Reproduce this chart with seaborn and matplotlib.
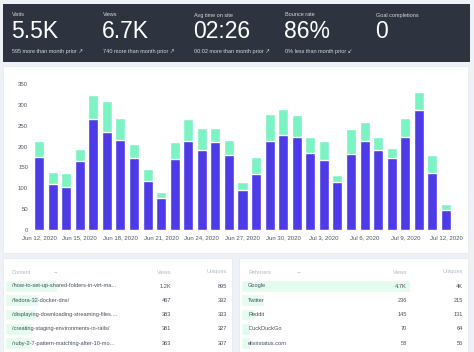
import matplotlib.pyplot as plt
import matplotlib.patches as mpatches
import pandas as pd
import seaborn as sb

# figure size in pixels
W, H = 474, 352

sb.set_theme(style="white")
plt.rcParams['font.family'] = ['Liberation Sans', 'DejaVu Sans']

# colours
bgcolor = "#eef1f5"
darkpanel = "#2d3440"
purple = "#4c3be6"
mint = "#7cf3c3"
rowbar = "#e4fbef"
headgray = "#b4bac3"
rowtext = "#464e5c"

# stats strip
stat_labels = ["Visits", "Views", "Avg time on site", "Bounce rate", "Goal completions"]
stat_values = ["5.5K", "6.7K", "02:26", "86%", "0"]
stat_changes = ["595 more than month prior \u2197", "740 more than month prior \u2197",
                "00:02 more than month prior \u2197", "0% less than month prior \u2199", ""]

# daily chart
days = pd.date_range("2020-06-12", "2020-07-12", freq="D")
day_labels = ["{:%b} {}, {}".format(d, d.day, d.year) for d in days]
visitors = [176, 110, 102, 165, 266, 236, 216, 172, 117, 77, 171, 213, 191, 211, 179, 95,
            135, 214, 228, 224, 184, 169, 114, 181, 214, 191, 172, 223, 288, 136, 48]
pageviews = [214, 139, 136, 193, 323, 309, 268, 206, 146, 92, 210, 266, 244, 245, 216, 116,
             176, 277, 291, 276, 223, 213, 132, 241, 260, 224, 197, 269, 331, 179, 62]

# tables
pages = ["/how-to-set-up-shared-folders-in-virt-ma...", "/fedora-32-docker-dns/",
         "/displaying-downloading-streaming-files....", "/creating-staging-environments-in-rails/",
         "/ruby-2-7-pattern-matching-after-10-mo..."]
page_views = ["1.2K", "467", "383", "381", "363"]
page_uniques = ["895", "392", "333", "327", "307"]
page_share = [23, 15, 14, 12, 12]

referrers = ["Google", "Twitter", "Reddit", "DuckDuckGo", "elixirstatus.com"]
ref_views = ["4.7K", "236", "145", "70", "58"]
ref_uniques = ["4K", "215", "131", "64", "56"]
ref_share = [75, 10, 6, 4, 4]


def fx(x):
    return x / W


def fy(y):
    return 1 - y / H


def panel(x0, y0, x1, y1, color, edge="none"):
    fig.patches.append(mpatches.Rectangle((fx(x0), fy(y1)), fx(x1 - x0), (y1 - y0) / H,
                                          transform=fig.transFigure, facecolor=color,
                                          edgecolor=edge, linewidth=0.5, zorder=-5))


fig = plt.figure(figsize=(W / 100, H / 100), dpi=100)
fig.patch.set_facecolor(bgcolor)

panel(3, 4, 470, 62, darkpanel)
panel(3, 66, 468, 253, "white", "#e4e8ee")
panel(3, 258, 232, 360, "white", "#e4e8ee")
panel(239, 258, 468, 360, "white", "#e4e8ee")

# stats text
for i in range(5):
    x = 12 + 91 * i
    fig.text(fx(x), fy(15), stat_labels[i], color="#d3d7de", fontsize=4, va="center")
    fig.text(fx(x - 1), fy(31), stat_values[i], color="white", fontsize=16.5, va="center")
    fig.text(fx(x), fy(51), stat_changes[i], color="#d3d7de", fontsize=4, va="center")

# bar chart
ax = fig.add_axes([fx(29.5), fy(230), fx(426), 146 / H])
sb.barplot(x=day_labels, y=pageviews, color=mint, saturation=1, width=0.74, ax=ax)
sb.barplot(x=day_labels, y=visitors, color=purple, saturation=1, width=0.74, ax=ax)
ax.set_xlim(-0.7, 30.7)
ax.set_ylim(0, 350)
ax.set_yticks(range(0, 351, 50))
ax.set_xticks(range(0, 31, 3))
ax.set_xticklabels(day_labels[::3])
ax.tick_params(axis="both", length=0, labelsize=4.3, labelcolor="#4f5562")
ax.tick_params(axis="y", pad=1)
ax.tick_params(axis="x", pad=4)
ax.patch.set_alpha(0)
for s in ax.spines.values():
    s.set_visible(False)

# tables
def table(x0, x1, names, views, uniques, share, head, arrow_x):
    tax = fig.add_axes([fx(x0 + 2), fy(350), fx(x1 - x0 - 4), 71 / H])
    tax.barh(range(5), share, height=0.84, color=rowbar)
    tax.set_xlim(0, 100)
    tax.set_ylim(4.5, -0.5)
    tax.axis("off")
    fig.text(fx(x0 + 9), fy(272), head, color=headgray, fontsize=4, va="center")
    fig.text(fx(arrow_x), fy(272), "\u2192", color=headgray, fontsize=4, va="center")
    fig.text(fx(x1 - 61), fy(272), "Views", color=headgray, fontsize=4, va="center", ha="right")
    fig.text(fx(x1 - 5), fy(272), "Uniques", color=headgray, fontsize=4, va="center", ha="right")
    for i in range(5):
        y = 286 + 14.3 * i
        fig.text(fx(x0 + 9), fy(y), names[i], color=rowtext, fontsize=4.1, va="center")
        fig.text(fx(x1 - 61), fy(y), views[i], color=rowtext, fontsize=4.1, va="center", ha="right")
        fig.text(fx(x1 - 5), fy(y), uniques[i], color=rowtext, fontsize=4.1, va="center", ha="right")


table(3, 232, pages, page_views, page_uniques, page_share, "Content", 53)
table(239, 468, referrers, ref_views, ref_uniques, ref_share, "Referrers", 296)

plt.savefig("out.png", dpi=100, facecolor=bgcolor)
